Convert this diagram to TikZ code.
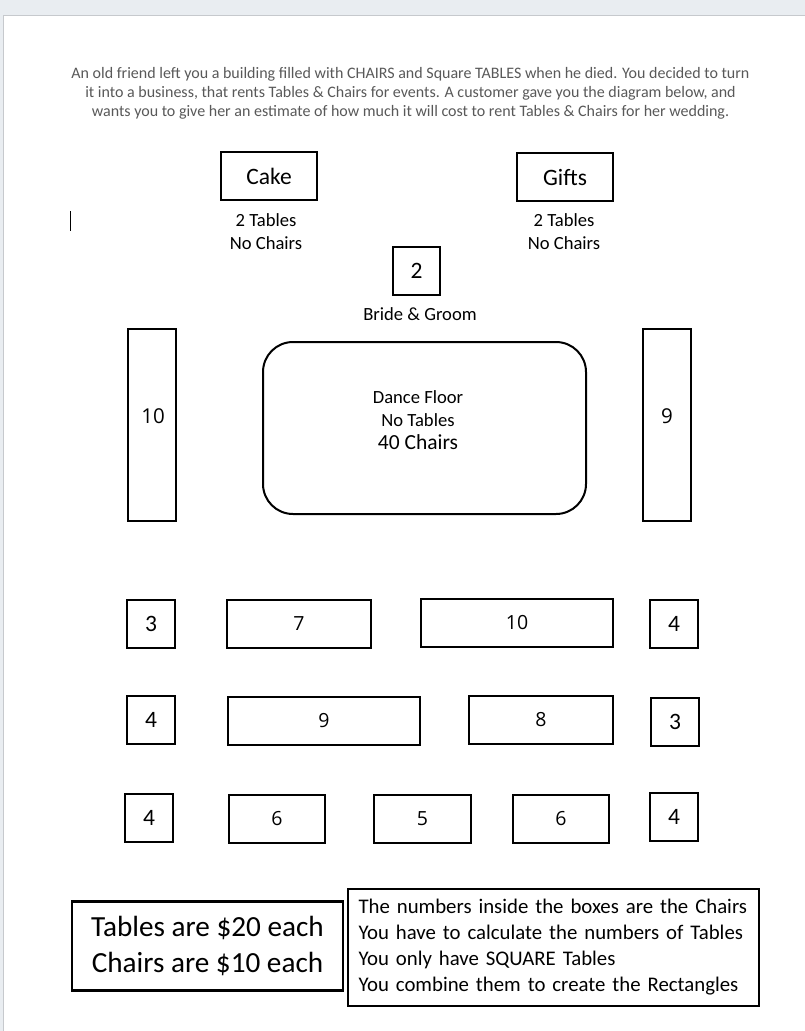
\documentclass[tikz,border=0pt]{standalone}
\usepackage{fontspec}
\setmainfont{Carlito}
\newfontfamily\numfont{Open Sans}
\definecolor{pagegray}{RGB}{233,237,241}
\definecolor{bordergray}{RGB}{198,201,205}
\definecolor{introgray}{RGB}{89,89,89}
\newcommand{\fsz}[2]{\fontsize{#1}{#2}\selectfont}
\begin{document}
\begin{tikzpicture}[x=1pt,y=-1pt,
  box/.style={draw, line width=2pt, inner sep=0pt, font=\fsz{23.5}{28}},
  sq/.style={box, minimum width=48pt, minimum height=48pt},
  longbox/.style={box, minimum height=48pt, font=\numfont\fsz{19.5}{23}},
  lbl/.style={inner sep=0pt, align=center, font=\fsz{18.6}{23}},
  numtxt/.style={inner sep=0pt, font=\numfont\fsz{20.5}{23}},
  intro/.style={inner sep=0pt, align=center, text=introgray, font=\fsz{16}{19}},
  notebox/.style={draw, line width=2.6pt},
]
\useasboundingbox (0,0) rectangle (805,1031);
% page background
\fill[pagegray] (0,0) rectangle (805,1031);
\fill[white] (4,16) rectangle (805,1031);
\draw[bordergray, line width=1pt] (3.5,1031) -- (3.5,15.5) -- (805,15.5);
% text cursor
\draw[line width=1pt] (70,211) -- (70,231);

\node[intro] (intro) at (410.5,93) {An old friend left you a building filled with CHAIRS and Square TABLES when he died. You decided to turn\\
it into a business, that rents Tables \& Chairs for events. A customer gave you the diagram below, and\\
wants you to give her an estimate of how much it will cost to rent Tables \& Chairs for her wedding.};

% top tables
\node[box, minimum width=96pt, minimum height=48pt] (cake) at (269,176) {Cake};
\node[box, minimum width=96pt, minimum height=48pt] (gifts) at (565,177) {Gifts};
\node[lbl] (cakeinfo) at (266,232) {2 Tables\\No Chairs};
\node[lbl] (giftsinfo) at (564,232) {2 Tables\\No Chairs};
\node[box, minimum width=47pt, minimum height=48pt] (bride) at (416.5,271) {2};
\node[lbl] (bridelbl) at (420,314) {Bride \& Groom};

% side tables and dance floor
\node[box, minimum width=48pt, minimum height=192pt] (tallL) at (152,425) {};
\node[numtxt] (tallLn) at (153,416) {10};
\node[box, minimum width=48pt, minimum height=192pt] (tallR) at (667,425) {};
\node[numtxt] (tallRn) at (667,416) {9};
\node[box, rounded corners=30pt, minimum width=323pt, minimum height=172pt] (dance) at (424.5,428) {};
\node[lbl] (dancetxt) at (418,420.5) {Dance Floor\\No Tables\\{\fsz{21.5}{23}40 Chairs}};

% row 1
\node[sq] (r1a) at (151,624) {3};
\node[longbox, minimum width=144pt] (r1b) at (299,624) {7};
\node[longbox, minimum width=192pt] (r1c) at (517,623) {10};
\node[sq] (r1d) at (674,624) {4};
% row 2
\node[sq] (r2a) at (151,720) {4};
\node[longbox, minimum width=192pt] (r2b) at (324,721) {9};
\node[longbox, minimum width=144pt] (r2c) at (541,720) {8};
\node[sq] (r2d) at (675,722) {3};
% row 3
\node[sq] (r3a) at (149,818) {4};
\node[longbox, minimum width=96pt] (r3b) at (277,819) {6};
\node[longbox, minimum width=97pt] (r3c) at (422.5,819) {5};
\node[longbox, minimum width=96pt] (r3d) at (561,819) {6};
\node[sq] (r3e) at (674,817) {4};

% notes
\node[notebox, minimum width=271pt, minimum height=89pt, align=center, inner sep=0pt, font=\fsz{29.2}{36}] (prices) at (207.5,946) {Tables are \$20 each\\Chairs are \$10 each};
\node[notebox, minimum height=117pt, text width=390pt, inner xsep=10.5pt, inner ysep=0pt, align=left, font=\fsz{20.8}{26}] (rules) at (553.5,947.5) {The numbers inside the boxes are the Chairs\\
You have to calculate the numbers of Tables\\
You only have SQUARE Tables\\
You combine them to create the Rectangles};
\end{tikzpicture}
\end{document}
